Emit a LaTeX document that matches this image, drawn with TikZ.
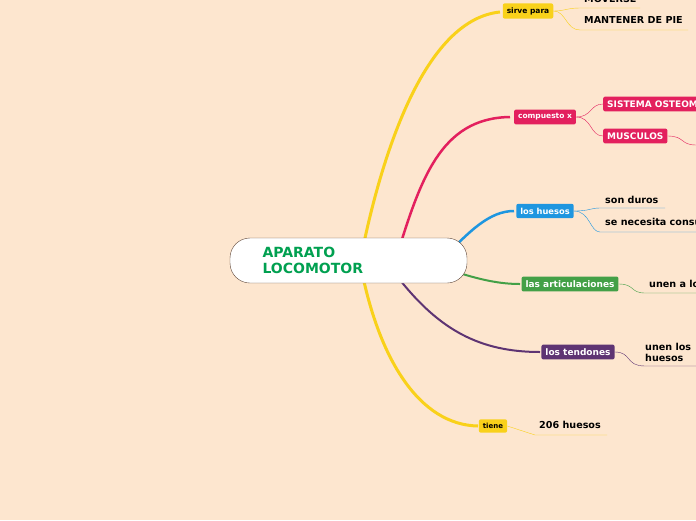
\documentclass[tikz,border=0pt]{standalone}
\usepackage{fontspec}
\setmainfont{DejaVu Sans}
\begin{document}
\begin{tikzpicture}[x=1pt,y=-1pt,
  box/.style={rounded corners=2pt,inner sep=4pt,font=\bfseries\fontsize{8.3}{9}\selectfont,text=white},
  leaf/.style={anchor=west,font=\bfseries\fontsize{9.6}{11}\selectfont,inner sep=1pt,align=left}]
\definecolor{bg}{HTML}{FDE6CF}
\definecolor{yel}{HTML}{F9D11A}
\definecolor{red}{HTML}{E3205E}
\definecolor{blu}{HTML}{1E96E0}
\definecolor{grn}{HTML}{43A047}
\definecolor{pur}{HTML}{5E3473}
\fill[bg] (0,0) rectangle (696,520);
\useasboundingbox (0,0) rectangle (696,520);
% trunks
\draw[yel,line width=3pt] (360,262) .. controls (378,170) and (420,20) .. (500,12);
\draw[yel,line width=3pt] (360,262) .. controls (378,360) and (420,425) .. (478,426);
\draw[red,line width=2.5pt] (395,262) .. controls (420,180) and (440,118) .. (510,117);
\draw[blu,line width=2.5pt] (440,262) .. controls (470,230) and (490,211) .. (514,211);
\draw[grn,line width=2pt] (450,270) .. controls (480,280) and (500,284) .. (520,284);
\draw[pur,line width=2pt] (400,280) .. controls (440,330) and (480,352) .. (540,352);
% center
\node[draw={rgb,255:red,110;green,60;blue,20},fill=white,rounded corners=20pt,minimum width=237pt,minimum height=45pt] (c) at (348.5,260.5) {};
\node[anchor=west,align=left,text={rgb,255:red,0;green,160;blue,80},font=\bfseries\fontsize{14}{16}\selectfont] (ct) at (259,260.5) {APARATO\\LOCOMOTOR};
% branch nodes
\node[box,fill=yel,text=black,font=\bfseries\fontsize{7.5}{8}\selectfont] (s) at (528,11) {sirve para};
\node[box,fill=red,font=\bfseries\fontsize{7.5}{8}\selectfont] (cx) at (545,117) {compuesto x};
\node[box,fill=blu] (h) at (545,211) {los huesos};
\node[box,fill=grn,font=\bfseries\fontsize{9}{10}\selectfont] (a) at (570,284) {las articulaciones};
\node[box,fill=pur,font=\bfseries\fontsize{9}{10}\selectfont] (t) at (578,352) {los tendones};
\node[box,fill=yel,text=black,font=\bfseries\fontsize{7}{8}\selectfont] (ti) at (493,426) {tiene};
% leaves
\node[leaf] (m1) at (583,-1) {MOVERSE};
\node[leaf] (m2) at (583,20) {MANTENER DE PIE};
\node[box,fill=red,anchor=west,font=\bfseries\fontsize{9}{10}\selectfont] (so) at (603,104) {SISTEMA OSTEOMUSCULAR};
\node[box,fill=red,anchor=west,font=\bfseries\fontsize{9}{10}\selectfont] (mu) at (603,136) {MUSCULOS};
\node[leaf] (sd) at (604,200) {son duros};
\node[leaf] (sn) at (604,222) {se necesita consumir calcio};
\node[leaf] (ul) at (648,284) {unen a los huesos};
\node[leaf] (uh) at (644,352) {unen los\\huesos};
\node[leaf] (hu) at (538,425) {206 huesos};
% connectors
\draw[yel] (s.east) .. controls (566,11) and (566,8) .. (580,8) -- (640,8);
\draw[yel] (s.east) .. controls (566,11) and (566,30) .. (580,30) -- (688,30);
\draw[red] (cx.east) .. controls (592,117) and (590,104) .. (so.west);
\draw[red] (cx.east) .. controls (592,117) and (590,136) .. (mu.west);
\draw[red] (mu.east) .. controls (685,136) and (680,145) .. (696,145);
\draw[blu] (h.east) .. controls (590,211) and (590,208) .. (600,208) -- (665,208);
\draw[blu] (h.east) .. controls (590,211) and (590,232) .. (600,232) -- (696,232);
\draw[grn] (a.east) .. controls (635,284) and (630,293) .. (645,293) -- (696,293);
\draw[pur] (t.east) .. controls (632,352) and (625,366) .. (645,366) -- (696,366);
\draw[yel] (ti.east) -- (535,435) -- (607,435);
\end{tikzpicture}
\end{document}
